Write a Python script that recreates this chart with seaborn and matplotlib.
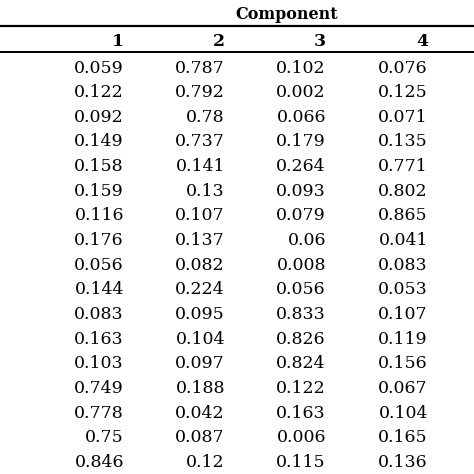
import matplotlib
matplotlib.use("Agg")
import matplotlib.pyplot as plt
import seaborn as sns

sns.set_theme(style="white")
plt.rcParams['font.family'] = ['DejaVu Serif']
plt.rcParams['text.color'] = 'black'

header = "Component"
components = ["1", "2", "3", "4"]
comp1 = [0.059, 0.122, 0.092, 0.149, 0.158, 0.159, 0.116, 0.176, 0.056, 0.144, 0.083, 0.163, 0.103, 0.749, 0.778, 0.75, 0.846]
comp2 = [0.787, 0.792, 0.78, 0.737, 0.141, 0.13, 0.107, 0.137, 0.082, 0.224, 0.095, 0.104, 0.097, 0.188, 0.042, 0.087, 0.12]
comp3 = [0.102, 0.002, 0.066, 0.179, 0.264, 0.093, 0.079, 0.06, 0.008, 0.056, 0.833, 0.826, 0.824, 0.122, 0.163, 0.006, 0.115]
comp4 = [0.076, 0.125, 0.071, 0.135, 0.771, 0.802, 0.865, 0.041, 0.083, 0.053, 0.107, 0.119, 0.156, 0.067, 0.104, 0.165, 0.136]

fig = plt.figure(figsize=(4.74, 4.74), dpi=100)
ax = fig.add_axes([0, 0, 1, 1])
ax.set_xlim(0, 474)
ax.set_ylim(474, 0)
ax.axis("off")

col_x = [124, 225, 326, 428]
ax.text(287, 14, header, ha="center", va="center", fontsize=11.5, fontweight="bold", color="black")
ax.plot([0, 474], [25.5, 25.5], color="black", lw=1.6)
for x, c in zip(col_x, components):
    ax.text(x, 41, c, ha="right", va="center", fontsize=12.5, fontweight="bold", color="black")
ax.plot([0, 474], [52, 52], color="black", lw=1.4)

for i, vals in enumerate(zip(comp1, comp2, comp3, comp4)):
    y = 68 + i * 24.65
    for x, v in zip(col_x, vals):
        ax.text(x, y, f"{v:g}", ha="right", va="center", fontsize=12.5, color="black")

fig.savefig("out.png", dpi=100, facecolor="white")
